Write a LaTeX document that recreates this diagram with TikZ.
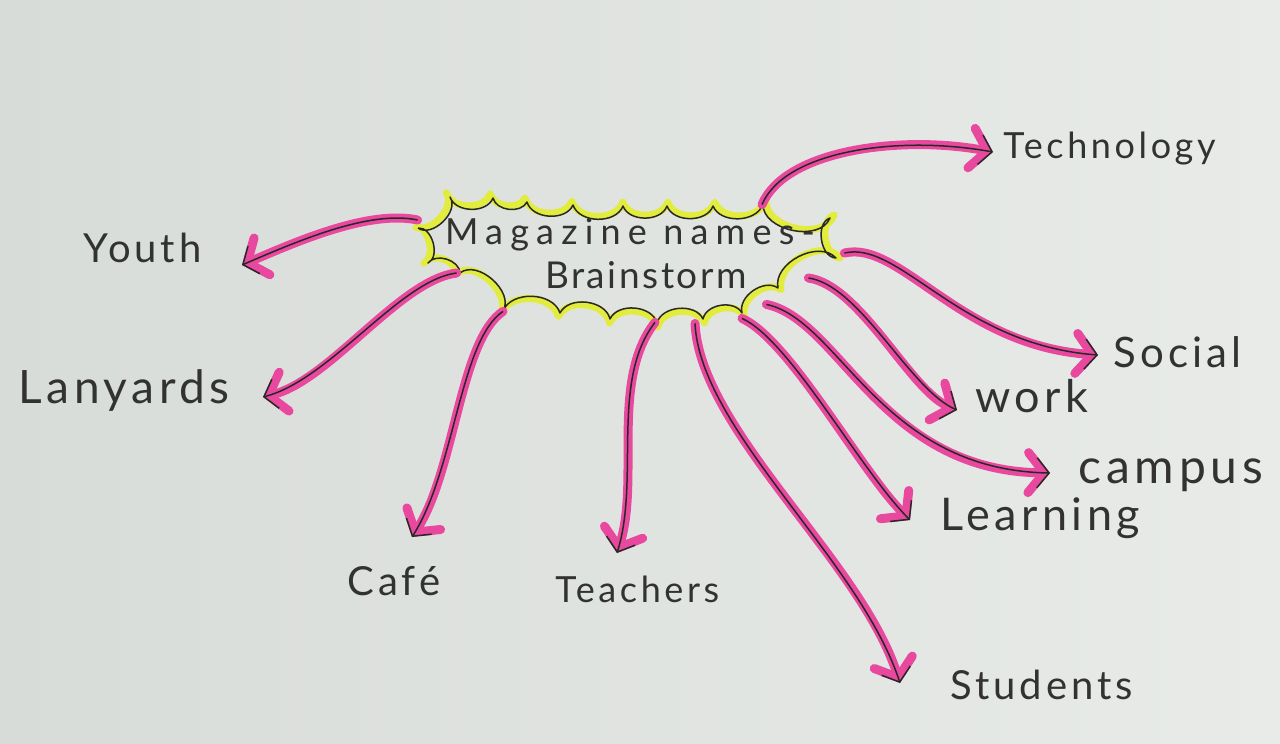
\documentclass[tikz,border=0pt]{standalone}
\usepackage{fontspec}
\setmainfont{Lato}
\newfontfamily\hand[LetterSpace=10]{Lato}
\newfontfamily\handwide[LetterSpace=20]{Lato}
\newfontfamily\handmid[LetterSpace=7]{Lato}
\usetikzlibrary{arrows.meta}
\definecolor{paperL}{RGB}{216,220,217}
\definecolor{paperR}{RGB}{232,235,232}
\definecolor{hlpink}{RGB}{232,72,158}
\definecolor{hlyellow}{RGB}{226,236,60}
\definecolor{ink}{RGB}{40,40,40}
\definecolor{textink}{RGB}{50,50,50}
\newcommand\mmconn[1]{\draw[hl] #1; \draw[pen] #1;}
\newcommand\mmcloudpath{(418,228) to[bend right=80] (450,197) to (493,198) to (527,202) to (573,205)
  to (623,206) to (667,206) to (713,206) to (763,204) to[bend right=80] (830,218)
  to[bend right=80] (836,258) to[bend right=75] (778,288) to (742,313) to (703,319)
  to (657,323) to (610,319) to (560,313) to (503,311) to[bend right=80] (460,273)
  to (428,263) to[bend right=80] (418,228)}
\begin{document}
\begin{tikzpicture}[x=0.5pt,y=-0.5pt,
  hl/.style={draw=hlpink, line width=4.5pt, line cap=round, -{Straight Barb[length=8pt,width=20pt,line cap=round]}},
  pen/.style={draw=ink, line width=0.75pt, -{Straight Barb[length=6pt,width=15pt]}},
  lbl/.style={anchor=base west, inner sep=0pt, text=textink, font=\hand\fontsize{18}{20}\selectfont},
  scallop/.style={bend right=70, line join=round},
  cloudbox/.style={minimum width=202pt, minimum height=56pt, inner sep=0pt,
    align=center, text=textink, font=\handwide\fontsize{18}{22}\selectfont}]
\useasboundingbox (0,0) rectangle (1280,744);
\shade[left color=paperL, right color=paperR] (0,0) rectangle (1280,744);

% cloud outline: yellow highlighter, then black pen
\begin{scope}[shift={(630,262)}, xscale=1.02, yscale=1.065, shift={(-630,-262)}]
  \draw[hlyellow, line width=3.5pt, line join=round, every to/.style={scallop}] \mmcloudpath;
\end{scope}
\draw[ink, line width=0.75pt, line join=round, every to/.style={scallop}] \mmcloudpath;

% centre
\node[cloudbox] (cloud) at (630,262) {\raisebox{2.4pt}[\height][\depth]{\begin{tabular}{@{}c@{}}Magazine names-\\\hspace*{16pt}{\handmid\fontsize{18.5}{22}\selectfont Brainstorm}\end{tabular}}};

% labels
\node[lbl] (Technology) at (1003,158) {Technology};
\node[lbl, font=\hand\fontsize{20}{22}\selectfont] (Youth) at (83,262) {Youth};
\node[lbl, font=\hand\fontsize{23}{26}\selectfont] (Lanyards) at (18,403) {Lanyards};
\node[lbl, font=\hand\fontsize{20}{22}\selectfont] (Cafe) at (347,595) {Café};
\node[lbl] (Teachers) at (555,602) {Teachers};
\node[lbl, font=\hand\fontsize{20}{22}\selectfont] (Students) at (950,699) {Students};
\node[lbl, font=\hand\fontsize{22.5}{24}\selectfont] (Learning) at (940,530) {Learning};
\node[lbl, font=\hand\fontsize{24}{26}\selectfont] (campus) at (1078,483) {campus};
\node[lbl, font=\hand\fontsize{22.5}{24}\selectfont] (work) at (975,412) {work};
\node[lbl, font=\hand\fontsize{21}{23}\selectfont] (Social) at (1113,367) {Social};

% arrow tips
\coordinate (tTech) at (993,152);
\coordinate (tYouth) at (242,265);
\coordinate (tLan) at (263,397);
\coordinate (tCafe) at (412,537);
\coordinate (tTeach) at (617,553);
\coordinate (tStud) at (900,683);
\coordinate (tLearn) at (910,520);
\coordinate (tCamp) at (1050,473);
\coordinate (tWork) at (957,410);
\coordinate (tSoc) at (1098,355);

\mmconn{([shift={(132,-1)}]cloud.north) .. controls (785,150) and (900,135) .. (tTech)}
\mmconn{([shift={(12,-9)}]cloud.east) .. controls (900,240) and (960,345) .. (tSoc)}
\mmconn{([shift={(-24,16)}]cloud.east) .. controls (860,285) and (910,390) .. (tWork)}
\mmconn{([shift={(-66,-14)}]cloud.south east) .. controls (840,320) and (880,470) .. (tCamp)}
\mmconn{([shift={(112,0)}]cloud.south) .. controls (790,340) and (860,470) .. (tLearn)}
\mmconn{([shift={(65,5)}]cloud.south) .. controls (700,430) and (860,560) .. (tStud)}
\mmconn{([shift={(25,4)}]cloud.south) .. controls (610,380) and (640,480) .. (tTeach)}
\mmconn{([shift={(-127,-7)}]cloud.south) .. controls (460,340) and (455,470) .. (tCafe)}
\mmconn{([shift={(29,11)}]cloud.west) .. controls (400,280) and (330,380) .. (tLan)}
\mmconn{([shift={(-10,-42)}]cloud.west) .. controls (370,210) and (300,240) .. (tYouth)}
\end{tikzpicture}
\end{document}
